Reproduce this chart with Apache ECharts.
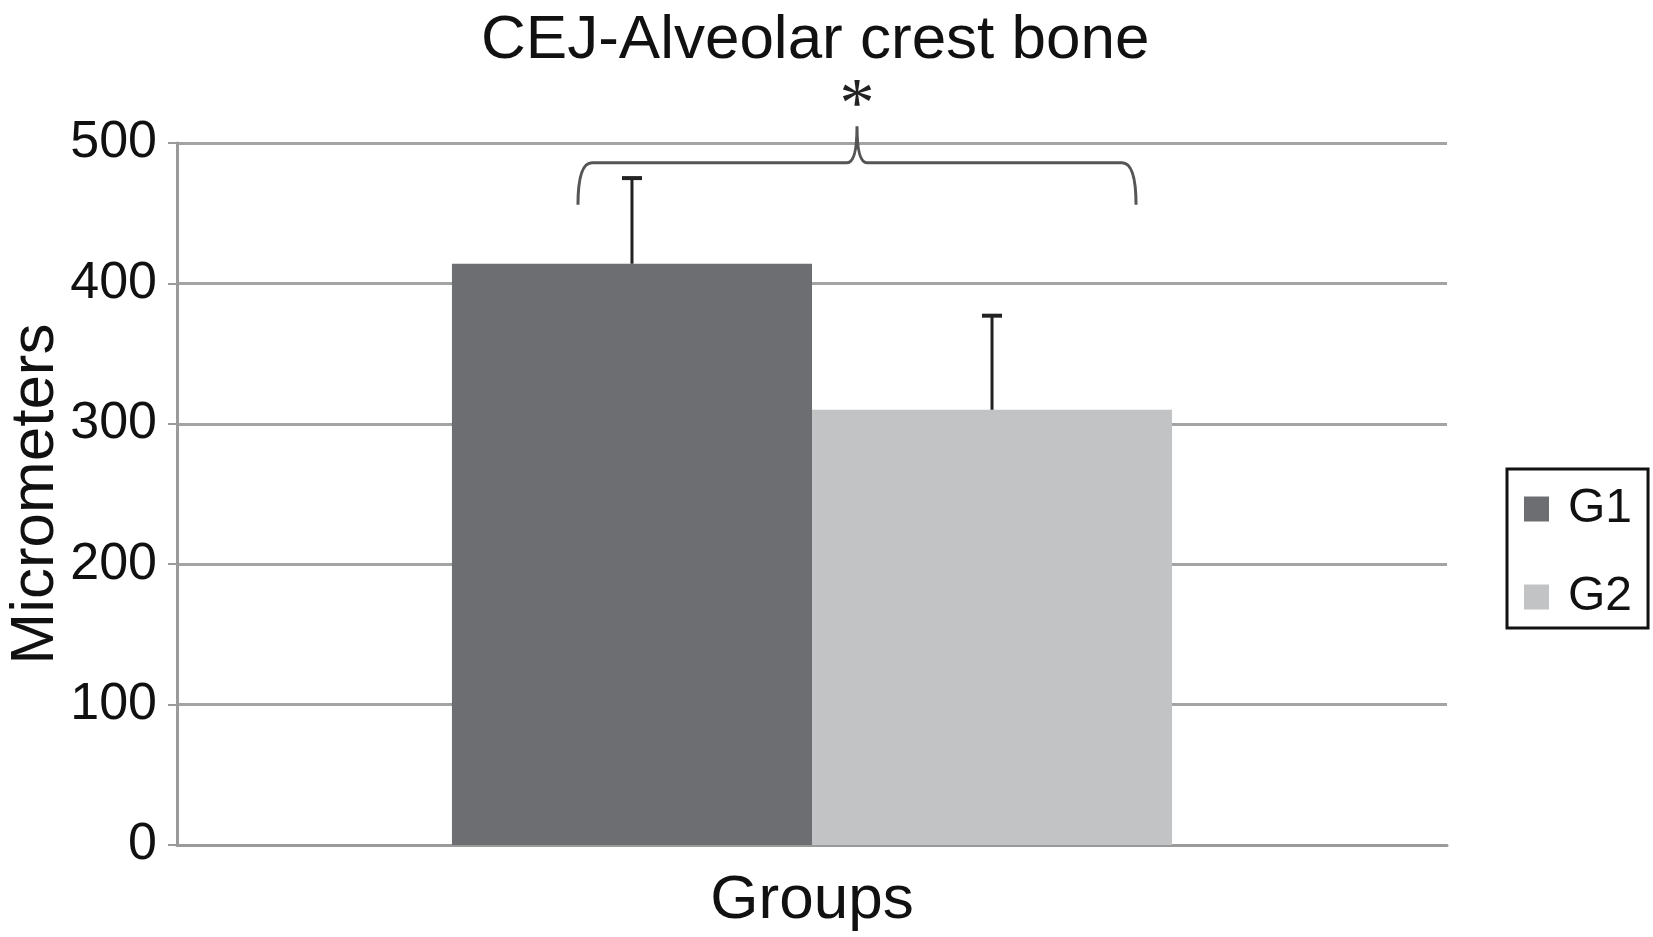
<!DOCTYPE html>
<html>
<head>
<meta charset="utf-8">
<script src="https://cdn.jsdelivr.net/npm/echarts@6/dist/echarts.min.js"></script>
<style>html,body{margin:0;padding:0;background:#fff}#c{width:1653px;height:937px}</style>
</head>
<body>
<div id="c"></div>
<script>
const categories = [''];
const groupNames = ['G1', 'G2'];
const means = [414, 310];
const errorTops = [475, 377];
const yTicks = [0, 100, 200, 300, 400, 500];
const bracketLevels = [456, 486, 512];
const groupColors = ['#6d6e72', '#c2c3c5'];

const FONT = '"Liberation Sans", Arial, sans-serif';
const BAR_FRAC = 0.2835;

function errRender(sign) {
  return function (params, api) {
    const b = api.coord([api.value(0), api.value(1)]);
    const t = api.coord([api.value(0), api.value(2)]);
    const B = api.size([1, 0])[0];
    const bw = B * BAR_FRAC;
    const x = b[0] + sign * bw / 2;
    return {
      type: 'group',
      children: [
        { type: 'line', shape: { x1: x, y1: b[1], x2: x, y2: t[1] }, style: { stroke: '#222', lineWidth: 3 } },
        { type: 'line', shape: { x1: x - 10, y1: t[1], x2: x + 10, y2: t[1] }, style: { stroke: '#222', lineWidth: 4 } }
      ]
    };
  };
}

function bracketRender(params, api) {
  const c = api.coord([api.value(0), api.value(1)]);
  const yb = c[1];
  const yt = api.coord([api.value(0), api.value(2)])[1];
  const yp = api.coord([api.value(0), api.value(3)])[1];
  const B = api.size([1, 0])[0];
  const bw = B * BAR_FRAC;
  const x1 = c[0] - 0.65 * bw;
  const x2 = c[0] + 0.9 * bw;
  const xs = c[0] + 0.125 * bw;
  const path = 'M' + x1 + ',' + yb + ' Q' + x1 + ',' + yt + ' ' + (x1 + 14) + ',' + yt +
    ' L' + (xs - 10) + ',' + yt + ' Q' + xs + ',' + yt + ' ' + xs + ',' + yp +
    ' Q' + xs + ',' + yt + ' ' + (xs + 10) + ',' + yt +
    ' L' + (x2 - 14) + ',' + yt + ' Q' + x2 + ',' + yt + ' ' + x2 + ',' + yb;
  return {
    type: 'group',
    children: [
      { type: 'path', shape: { pathData: path }, style: { stroke: '#555', lineWidth: 3, fill: null } },
      { type: 'text', style: { text: '*', x: xs, y: yp - 19, font: '70px "Liberation Serif", serif', fill: '#222', textAlign: 'center', textVerticalAlign: 'middle' } }
    ]
  };
}

const chart = echarts.init(document.getElementById('c'));
chart.setOption({
  animation: false,
  backgroundColor: '#fff',
  title: {
    text: 'CEJ-Alveolar crest bone',
    left: 476,
    top: 5,
    textStyle: { fontFamily: FONT, fontSize: 62, fontWeight: 'normal', color: '#111' }
  },
  legend: {
    orient: 'vertical',
    left: 1507,
    top: 469,
    data: groupNames,
    icon: 'rect',
    itemWidth: 25,
    itemHeight: 25,
    itemGap: 34,
    padding: [13, 16, 4, 17],
    borderColor: '#111',
    borderWidth: 3,
    textStyle: { fontFamily: FONT, fontSize: 48, color: '#111', padding: [0, 0, 0, 14], lineHeight: 54 }
  },
  grid: { left: 177, right: 206, top: 143, bottom: 92, outerBoundsMode: 'none', containLabel: false },
  xAxis: {
    type: 'category',
    data: categories,
    name: 'Groups',
    nameLocation: 'middle',
    nameGap: 25,
    nameMoveOverlap: false,
    nameTextStyle: { fontFamily: FONT, fontSize: 62, color: '#111' },
    axisLine: { lineStyle: { color: '#9a9a9a', width: 3 } },
    axisTick: { show: false },
    axisLabel: { show: false }
  },
  yAxis: {
    type: 'value',
    min: yTicks[0],
    max: yTicks[yTicks.length - 1],
    interval: 100,
    name: 'Micrometers',
    nameLocation: 'middle',
    nameGap: 110,
    nameMoveOverlap: false,
    nameTextStyle: { fontFamily: FONT, fontSize: 62, color: '#111' },
    axisLine: { show: true, lineStyle: { color: '#9a9a9a', width: 3 } },
    axisTick: { show: true, length: 9, lineStyle: { color: '#9a9a9a', width: 2 } },
    axisLabel: { fontFamily: FONT, fontSize: 52, color: '#111', margin: 20 },
    splitLine: { lineStyle: { color: '#a3a3a3', width: 3 } }
  },
  series: [
    { name: groupNames[0], type: 'bar', data: [means[0]], barWidth: (BAR_FRAC * 100) + '%', barGap: '0%', itemStyle: { color: groupColors[0] } },
    { name: groupNames[1], type: 'bar', data: [means[1]], barWidth: (BAR_FRAC * 100) + '%', barGap: '0%', itemStyle: { color: groupColors[1] } },
    { type: 'custom', renderItem: errRender(-1), data: [[0, means[0], errorTops[0]]], z: 5, clip: false },
    { type: 'custom', renderItem: errRender(1), data: [[0, means[1], errorTops[1]]], z: 5, clip: false },
    { type: 'custom', renderItem: bracketRender, data: [[0].concat(bracketLevels)], z: 5, clip: false }
  ]
});
</script>
</body>
</html>
